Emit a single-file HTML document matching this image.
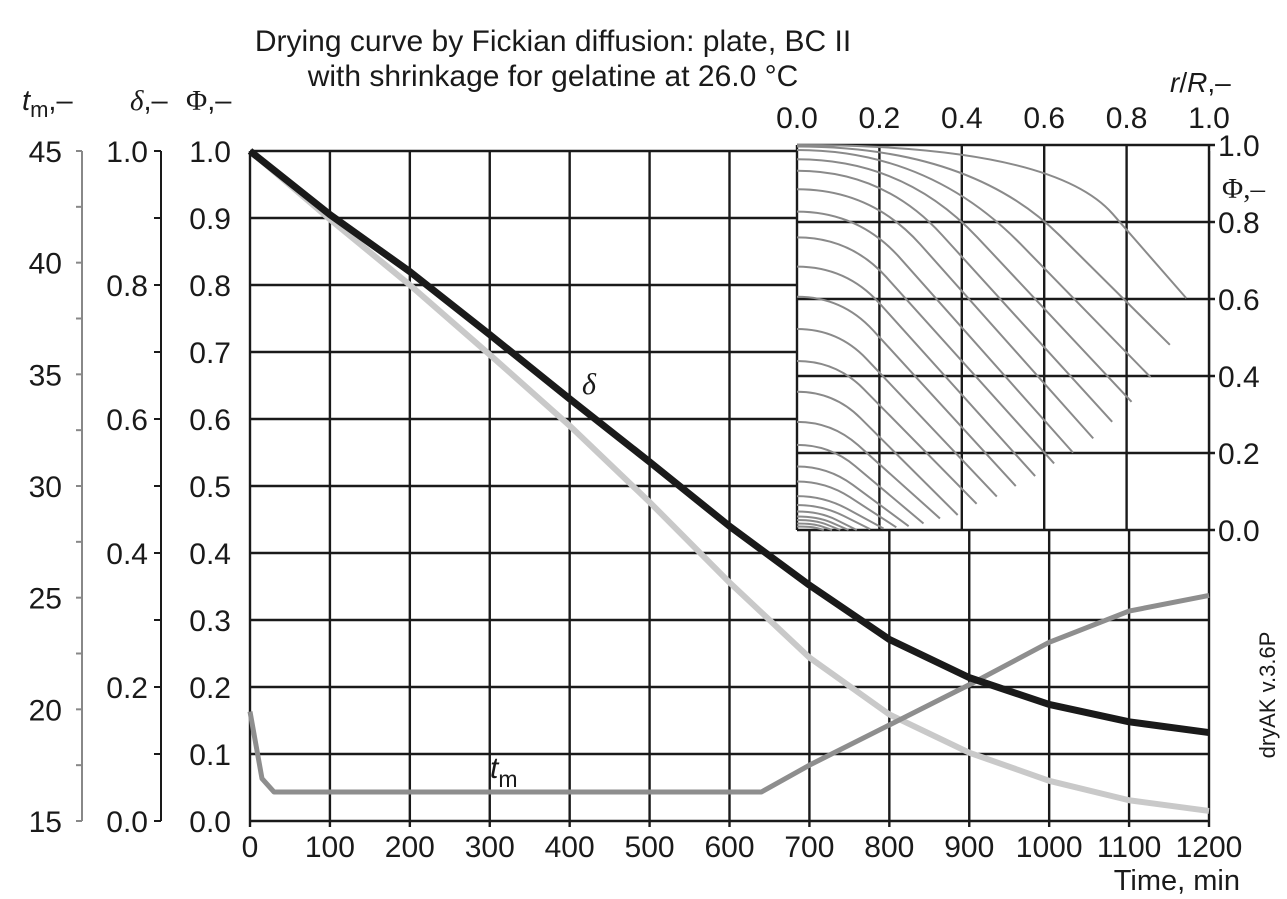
<!DOCTYPE html>
<html><head><meta charset="utf-8"><style>
body{margin:0;background:#fff;}
svg{display:block;font-family:"Liberation Sans",sans-serif;fill:#1a1a1a;}
</style></head><body>
<svg id="c" width="1287" height="899" viewBox="0 0 1287 899">
<g id="grid"></g>
<g id="inset"></g>
<g id="series"></g>
<g id="axes"></g>
<text x="553" y="51" font-size="30" text-anchor="middle">Drying curve by Fickian diffusion: plate, BC II</text>
<text x="553" y="86" font-size="30" text-anchor="middle">with shrinkage for gelatine at 26.0 °C</text>
<text x="22" y="110" font-size="29"><tspan font-style="italic">t</tspan><tspan font-size="22" dy="7">m</tspan><tspan dy="-7">,–</tspan></text>
<text x="130" y="110" font-size="29"><tspan font-style="italic" font-family="Liberation Serif">δ</tspan>,–</text>
<text x="186" y="110" font-size="29"><tspan font-family="Liberation Serif">Φ</tspan>,–</text>
<text x="1170" y="92" font-size="28"><tspan font-style="italic">r</tspan>/<tspan font-style="italic">R</tspan>,–</text>
<text x="1222" y="198" font-size="29" font-family="Liberation Serif">Φ,–</text>
<text x="1240" y="890" font-size="29" text-anchor="end">Time, min</text>
<text transform="translate(1275,695) rotate(-90)" font-size="22" text-anchor="middle">dryAK v.3.6P</text>
<text x="582" y="394" font-size="30" font-style="italic" font-family="Liberation Serif">δ</text>
<text x="490" y="778" font-size="30"><tspan font-style="italic">t</tspan><tspan font-size="23" dy="9">m</tspan></text>
</svg>
<script>
const timeX = [0,100,200,300,400,500,600,700,800,900,1000,1100,1200];
const deltaVals = [1.0,0.905,0.82,0.726,0.63,0.536,0.44,0.352,0.271,0.214,0.174,0.148,0.132];
const phiVals = [1.0,0.898,0.8,0.696,0.59,0.476,0.356,0.244,0.159,0.102,0.06,0.031,0.015];
const tmTimes = [0,15,30,100,300,640,700,800,900,1000,1100,1200];
const tmVals = [19.9,16.9,16.3,16.3,16.3,16.3,17.5,19.3,21.1,23.0,24.4,25.1];
const xTicks = [0,100,200,300,400,500,600,700,800,900,1000,1100,1200];
const phiTicks = ["0.0","0.1","0.2","0.3","0.4","0.5","0.6","0.7","0.8","0.9","1.0"];
const deltaTicks = ["0.0","0.2","0.4","0.6","0.8","1.0"];
const tmTicks = [15,20,25,30,35,40,45];
const insetTicks = ["0.0","0.2","0.4","0.6","0.8","1.0"];
const profStart = [1.0,0.996,0.987,0.963,0.933,0.885,0.827,0.76,0.684,0.606,0.522,0.439,0.359,0.281,0.221,0.165,0.126,0.088,0.065,0.048,0.035,0.026,0.017,0.009];
const profKnee = [0.62,0.42,0.32,0.26,0.21,0.18,0.15,0.13,0.12,0.11,0.1,0.095,0.09,0.085,0.08,0.075,0.07,0.065,0.06,0.055,0.05,0.045,0.04,0.035];
const profEndR = [0.945,0.905,0.858,0.812,0.765,0.719,0.67,0.624,0.578,0.531,0.485,0.436,0.39,0.347,0.307,0.271,0.241,0.21,0.178,0.145,0.125,0.105,0.085,0.065];
const profEndPhi = [0.602,0.481,0.397,0.333,0.281,0.238,0.201,0.173,0.14,0.114,0.087,0.068,0.039,0.03,0.017,0.01,0.007,0.004,0.002,0,0,0,0,0];

const NS="http://www.w3.org/2000/svg";
const X0=250,X1=1209,Y0=821,Y1=151;
const xs=t=>X0+(X1-X0)*t/1200;
const ys=v=>Y0-(Y0-Y1)*v;
const tmY=v=>Y0-(Y0-Y1)*(v-15)/30;
const IX0=797,IX1=1209,IY0=530,IY1=145;
const ix=r=>IX0+(IX1-IX0)*r;
const iy=p=>IY0-(IY0-IY1)*p;
function mk(tag,attrs,parent){const e=document.createElementNS(NS,tag);for(const k in attrs)e.setAttribute(k,attrs[k]);parent.appendChild(e);return e;}
const grid=document.getElementById('grid'),inset=document.getElementById('inset'),series=document.getElementById('series'),axes=document.getElementById('axes');

xTicks.forEach((t,i)=>{
  const l=mk('line',{x1:xs(t),x2:xs(t),y1:Y1,y2:Y0+6,stroke:'#1a1a1a','stroke-width':2.4},grid);
  
  
  const tx=mk('text',{x:xs(t),y:857,'font-size':30,'text-anchor':'middle'},axes);
  tx.textContent=t;
  
  
});
phiTicks.forEach((s,i)=>{
  const y=ys(i/10);
  const l=mk('line',{x1:X0,x2:X1,y1:y,y2:y,stroke:'#1a1a1a','stroke-width':2.4},grid);
  
  
  const tx=mk('text',{x:231,y:y+11,'font-size':30,'text-anchor':'end'},axes);
  tx.textContent=s;
  
  
});
const da=mk('line',{x1:161,x2:161,y1:Y1,y2:Y0,stroke:'#1a1a1a','stroke-width':2},axes);


for(let i=0;i<=10;i++){
  const m=mk('line',{x1:154,x2:161,y1:ys(i/10),y2:ys(i/10),stroke:'#1a1a1a','stroke-width':2},axes);
  
  
}
deltaTicks.forEach((s,i)=>{
  const tx=mk('text',{x:148,y:ys(i*0.2)+11,'font-size':30,'text-anchor':'end'},axes);
  tx.textContent=s;
  
  
});
const ta=mk('line',{x1:82,x2:82,y1:Y1,y2:Y0,stroke:'#888','stroke-width':2},axes);


for(let v=15;v<=45;v+=2.5){
  const m=mk('line',{x1:76,x2:82,y1:tmY(v),y2:tmY(v),stroke:'#888','stroke-width':2},axes);
  
  
}
tmTicks.forEach(v=>{
  const tx=mk('text',{x:62,y:tmY(v)+11,'font-size':30,'text-anchor':'end'},axes);
  tx.textContent=v;
  
  
});

const bg=mk('rect',{x:IX0,y:IY1,width:IX1-IX0,height:IY0-IY1,fill:'#fff'},inset);


insetTicks.forEach((s,i)=>{
  const v=i*0.2;
  const lv=mk('line',{x1:ix(v),x2:ix(v),y1:IY1,y2:IY0,stroke:'#1a1a1a','stroke-width':2.4},inset);
  
  
  const lh=mk('line',{x1:IX0,x2:IX1+6,y1:iy(v),y2:iy(v),stroke:'#1a1a1a','stroke-width':2.4},inset);
  
  
  const tx=mk('text',{x:ix(v),y:128,'font-size':30,'text-anchor':'middle'},inset);
  tx.textContent=s;
  
  
  const ty=mk('text',{x:1218,y:iy(v)+11,'font-size':30},inset);
  ty.textContent=s;
  
  
});
profStart.forEach((p0,i)=>{
  const re=profEndR[i],pe=profEndPhi[i],k=profKnee[i];
  // corner at (k,p0); straight tail from corner to end, rounded start
  const cx=ix(k),cy=iy(p0),ex=ix(re),ey=iy(pe);
  const dx=ex-cx,dy=ey-cy,L=Math.hypot(dx,dy);
  const dist=Math.min(cx-IX0,0.45*L);
  const bx=cx+dx/L*dist,by=cy+dy/L*dist;
  const d=`M${IX0},${cy} Q${cx},${cy} ${bx},${by} L${ex},${ey}`;
  const p=mk('path',{d:d,fill:'none',stroke:'#8a8a8a','stroke-width':2},inset);
  
  
});

function poly(tx,vals,yfn,color,w,name){
  const pts=tx.map((t,i)=>xs(t)+','+yfn(vals[i])).join(' ');
  const p=mk('polyline',{points:pts,fill:'none',stroke:color,'stroke-width':w,'stroke-linejoin':'round','stroke-linecap':'butt'},series);
  
  
}
poly(timeX,phiVals,ys,'#c9c9c9',6,'phi-series-line');
poly(tmTimes,tmVals,tmY,'#8e8e8e',5,'tm-series-line');
poly(timeX,deltaVals,ys,'#1a1a1a',7,'delta-series-line');
</script>
</body></html>
